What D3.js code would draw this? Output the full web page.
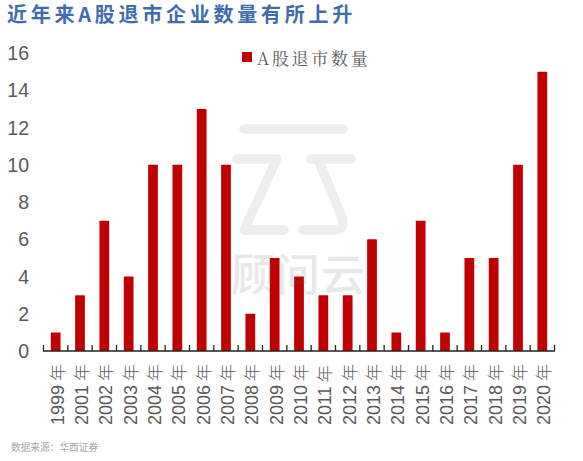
<!DOCTYPE html>
<html><head><meta charset="utf-8">
<script src="https://d3js.org/d3.v7.min.js"></script>
<style>html,body{margin:0;padding:0;background:#fff}svg{display:block}</style>
</head><body><svg id="c" width="583" height="461"></svg>
<script>
const years=["1999","2001","2002","2003","2004","2005","2006","2007","2008","2009","2010","2011","2012","2013","2014","2015","2016","2017","2018","2019","2020"];
const counts=[1,3,7,4,10,10,13,10,2,5,4,3,3,6,1,7,1,5,5,10,15];
const yTicks=[0,2,4,6,8,10,12,14,16];
const titleText="近年来A股退市企业数量有所上升";
const legendText="A股退市数量";
const sourceText="数据来源：华西证券";
const cjk='"Noto Sans CJK SC",sans-serif';
const svg=d3.select("#c");
const x=d3.scaleBand().domain(years).range([43.5,554.5]).paddingInner(0.6).paddingOuter(0.3);
const step=x.step();
const y=d3.scaleLinear().domain([0,16]).range([351,53]);

// watermark
const wm=svg.append("g").attr("stroke","#ededed").attr("fill","none").attr("stroke-linecap","round").attr("stroke-linejoin","round").attr("stroke-width",9.5);
wm.append("path").attr("d","M244 129H343");
wm.append("path").attr("d","M237 159H277L244 230H284");
wm.append("path").attr("d","M311 159H351");
wm.append("path").attr("d","M318 159L341 215Q347 230 334 230H303");

svg.append("g").selectAll("rect").data(years).join("rect")
 .attr("x",d=>x(d)).attr("width",x.bandwidth())
 .attr("y",(d,i)=>y(counts[i])).attr("height",(d,i)=>y(0)-y(counts[i]))
 .attr("fill","#c00000").attr("rx",0.6);

svg.append("text").attr("x",231).attr("y",291).attr("font-family",cjk).attr("font-weight",500).attr("font-size",44).attr("fill","#666").attr("opacity",0.14).attr("letter-spacing",1).text("顾问云");

// axis
const bounds=d3.range(years.length+1).map(i=>43.5+i*step);
const ax=svg.append("g");
ax.append("line").attr("x1",43).attr("x2",555).attr("y1",351).attr("y2",351).attr("stroke","#222").attr("stroke-width",1.4);
ax.selectAll(".t").data(bounds).join("line").attr("class","t").attr("x1",d=>d).attr("x2",d=>d).attr("y1",351).attr("y2",345).attr("stroke","#222").attr("stroke-width",1.3);

svg.append("g").selectAll("text").data(yTicks).join("text")
 .attr("x",29).attr("y",d=>y(d)+7).attr("text-anchor","end")
 .attr("font-family",'"Liberation Sans",Arial,sans-serif').attr("font-size",19.5).attr("fill","#595959").text(d=>d);

svg.append("g").selectAll("text").data(years).join("text")
 .attr("transform",d=>`translate(${x(d)+x.bandwidth()/2+8},425) rotate(-90)`)
 .attr("font-family",'"Liberation Sans",Arial,sans-serif').attr("font-size",18).attr("fill","#595959")
 .each(function(d){const t=d3.select(this);t.append("tspan").text(d);t.append("tspan").attr("dx",4).attr("font-family",cjk).attr("font-size",17).attr("font-weight",300).text("年");});

svg.append("rect").attr("x",242).attr("y",52).attr("width",10).attr("height",10).attr("fill","#c00000");
svg.append("text").attr("x",257).attr("y",65).attr("font-family",'"Noto Serif CJK SC","Noto Sans CJK SC",serif').attr("font-size",17).attr("letter-spacing",2.7).attr("fill","#595959").text(legendText);

svg.append("text").attr("x",7).attr("y",22).attr("font-family",cjk).attr("font-weight",700).attr("font-size",20).attr("letter-spacing",3.75).attr("fill","#3f6cad").text(titleText);
svg.append("text").attr("x",11).attr("y",451).attr("font-family",cjk).attr("font-size",9.7).attr("fill","#a6a6a6").text(sourceText);
</script></body></html>
